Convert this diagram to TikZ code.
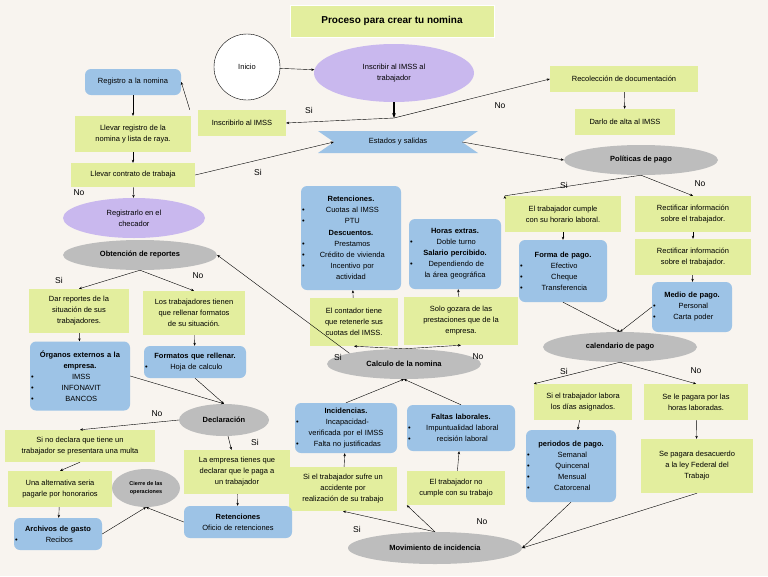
\documentclass[tikz,border=0pt]{standalone}
\usepackage{fontspec}
\setmainfont{Liberation Sans}
\usetikzlibrary{arrows.meta,shapes.geometric}
\definecolor{bg}{HTML}{F8F4EF}
\definecolor{gr}{HTML}{E3EE9E}
\definecolor{bl}{HTML}{9DC3E6}
\definecolor{pu}{HTML}{C9B8EE}
\definecolor{gy}{HTML}{BDBDBD}
\newcommand{\bli}[1]{\textbullet\hfill #1\hfill\mbox{}}
\tikzset{
 every node/.style={font=\fontsize{7.5}{11}\selectfont, align=center, inner sep=1pt},
 g/.style={fill=gr, minimum width=#1},
 b/.style={fill=bl, rounded corners=6pt, text width=#1},
 gel/.style={ellipse, fill=gy, font=\fontsize{7.5}{11}\selectfont\bfseries},
 pel/.style={ellipse, fill=pu},
 ar/.style={-{Stealth[length=3pt,width=2.5pt]}, thin},
 lab/.style={font=\fontsize{8.5}{10}\selectfont}
}
\begin{document}
\begin{tikzpicture}[x=1pt,y=-1pt]
\fill[bg] (0,0) rectangle (768,576);
\useasboundingbox (0,0) rectangle (768,576);
% title
\node[fill=gr, draw=white, minimum width=204, minimum height=32, font=\fontsize{10}{12}\selectfont\bfseries] (title) at (392,21) {Proceso para crear tu nomina};
\node[circle, draw, fill=white, minimum size=66] (ini) at (247,67) {Inicio};
\node[pel, minimum width=160, minimum height=58] (insc) at (394,73) {Inscribir al IMSS al\\trabajador};
\node[b=94, minimum height=26] (reg) at (133,82) {Registro a la nomina};
\node[g=148, minimum height=26] (rec) at (624,79) {Recolección de documentación};
\node[g=100, minimum height=26] (alta) at (625,122) {Darlo de alta al IMSS};
\node[g=88, minimum height=26] (inscr) at (242,123) {Inscribirlo al IMSS};
\coordinate (jn) at (394,118);
\fill[bl] (318,131) -- (478,131) -- (462,142) -- (478,153) -- (318,153) -- (334,142) -- cycle;
\node[minimum width=128, minimum height=22] (est) at (398,142) {Estados y salidas};
\node[g=116, minimum height=36] (llreg) at (133,134) {Llevar registro de la\\nomina y lista de raya.};
\node[g=124, minimum height=24] (llcon) at (133,175) {Llevar contrato de trabaja};
\node[gel, minimum width=154, minimum height=30] (pol) at (641,160) {Políticas de pago};
\node[pel, minimum width=142, minimum height=40] (chec) at (134,218) {Registrarlo en el\\checador};
\node[g=116, minimum height=36] (cumple) at (563,214) {El trabajador cumple\\con su horario laboral.};
\node[g=116, minimum height=36] (rect1) at (693,214) {Rectificar información\\sobre el trabajador.};
\node[g=116, minimum height=36] (rect2) at (693,257) {Rectificar información\\sobre el trabajador.};
\node[b=98, minimum height=104, font=\fontsize{7.5}{11.2}\selectfont] (ret) at (351,238) {\textbf{Retenciones.}\\\bli{Cuotas al IMSS}\\\bli{PTU}\\\textbf{Descuentos.}\\\bli{Prestamos}\\\bli{Crédito de vivienda}\\\bli{Incentivo por}\\actividad};
\node[b=90, minimum height=70] (horas) at (455,254) {\textbf{Horas extras.}\\\bli{Doble turno}\\\textbf{Salario percibido.}\\\bli{Dependiendo de}\\la área geográfica};
\node[b=86, minimum height=62] (forma) at (563,271) {\textbf{Forma de pago.}\\\bli{Efectivo}\\\bli{Cheque}\\\bli{Transferencia}};
\node[b=78, minimum height=50] (medio) at (692,307) {\textbf{Medio de pago.}\\\bli{Personal}\\\bli{Carta poder}};
\node[gel, minimum width=154, minimum height=30] (obt) at (140,255) {Obtención de reportes};
\node[g=100, minimum height=44] (dar) at (79,311) {Dar reportes de la\\situación de sus\\trabajadores.};
\node[g=102, minimum height=44] (llen) at (194,313) {Los trabajadores tienen\\que rellenar formatos\\de su situación.};
\node[g=88, minimum height=48] (cont) at (354,322) {El contador tiene\\que retenerle sus\\cuotas del IMSS.};
\node[g=114, minimum height=48] (solo) at (461,321) {Solo gozara de las\\prestaciones que de la\\empresa.};
\node[gel, minimum width=154, minimum height=30] (cal) at (620,347) {calendario de pago};
\node[b=98, minimum height=69] (org) at (80,376) {\textbf{Órganos externos a la}\\\textbf{empresa.}\\\bli{IMSS}\\\bli{INFONAVIT}\\\bli{BANCOS}};
\node[b=100, minimum height=32] (form) at (195,362) {\textbf{Formatos que rellenar.}\\\bli{Hoja de calculo}\hspace*{14pt}};
\node[gel, minimum width=154, minimum height=30] (calc) at (404,364) {Calculo de la nomina};
\node[g=98, minimum height=36] (labora) at (583,402) {Si el trabajador labora\\los días asignados.};
\node[g=104, minimum height=36] (pagh) at (696,402) {Se le pagara por las\\horas laboradas.};
\node[gel, minimum width=90, minimum height=32] (decl) at (224,420) {Declaración};
\node[b=100, minimum height=50] (inc) at (346,428) {\textbf{Incidencias.}\\\bli{Incapacidad-}\\verificada por el IMSS\\\bli{Falta no justificadas}};
\node[b=106, minimum height=46] (faltas) at (461,428) {\textbf{Faltas laborales.}\\\bli{Impuntualidad laboral}\\\bli{recisión laboral}};
\node[b=88, minimum height=72] (per) at (571,466) {\textbf{periodos de pago.}\\\bli{Semanal}\\\bli{Quincenal}\\\bli{Mensual}\\\bli{Catorcenal}};
\node[g=150, minimum height=32] (multa) at (80,446) {Si no declara que tiene un\\trabajador se presentara una multa};
\node[g=106, minimum height=44] (emp) at (237,472) {La empresa tienes que\\declarar que le paga a\\un trabajador};
\node[g=112, minimum height=54] (ley) at (697,466) {Se pagara desacuerdo\\a la ley Federal del\\Trabajo};
\node[g=104, minimum height=36] (alt) at (60,489) {Una alternativa seria\\pagarle por honorarios};
\node[ellipse, fill=gy, minimum width=68, minimum height=38, font=\fontsize{5.5}{8}\selectfont\bfseries] (cierre) at (146,488) {Cierre de las\\operaciones};
\node[g=108, minimum height=44] (sufre) at (343,489) {Si el trabajador sufre un\\accidente por\\realización de su trabajo};
\node[g=98, minimum height=34] (nocum) at (456,488) {El trabajador no\\cumple con su trabajo};
\node[b=86, minimum height=32] (arch) at (58,534) {\textbf{Archivos de gasto}\\\bli{Recibos}\hspace*{14pt}};
\node[b=106, minimum height=32] (retof) at (238,522) {\textbf{Retenciones}\\Oficio de retenciones};
\node[gel, minimum width=174, minimum height=32] (mov) at (435,548) {Movimiento de incidencia};
% connectors
\draw[ar] (ini) -- (insc);
\draw[-{Stealth[length=5pt]}, line width=1.5pt] (insc.south) -- (jn);
\draw[ar] (jn) -- (inscr.east);
\draw[ar] (jn) -- (rec.west);
\draw[ar] (inscr.north west) ++(-8,0) -- (reg.east);
\draw[ar] (reg) -- (llreg);
\draw[ar] (llreg) -- (llcon);
\draw[ar] (llcon.east) -- (est.west);
\draw[ar] (llcon) -- (chec);
\draw[ar] (rec) -- (alta);
\draw[ar] (est.east) -- (pol.west);
\draw[ar] (pol.south) -- (cumple.north west) ++(0,0);
\draw[ar] (pol.south) -- (rect1.north);
\draw[ar] (rect1) -- (rect2);
\draw[ar] (rect2) -- (medio);
\draw[ar] (cumple) -- (forma);
\draw[ar] (forma.south) -- (cal.north);
\draw[ar] (medio.west) -- (cal.north);
\draw[ar] (cal.south) -- (labora.north west);
\draw[ar] (cal.south) -- (pagh.north);
\draw[ar] (labora) -- (per);
\draw[ar] (pagh) -- (ley);
\draw[ar] (per.south) -- (mov.east);
\draw[ar] (ley.south) -- (mov.east);
\draw[ar] (mov.north) -- (sufre.south);
\draw[ar] (mov.north) -- (nocum.south west);
\draw[ar] (sufre) -- (inc);
\draw[ar] (nocum) -- (faltas);
\draw[ar] (inc.north) -- (calc.south);
\draw[ar] (faltas.north) -- (calc.south);
\draw[ar] (calc.north) -- (cont.south);
\draw[ar] (calc.north) -- (solo.south);
\draw[ar] (cont) -- (ret);
\draw[ar] (solo) -- (horas);
\draw[ar] (calc.north west) -- (obt.east);
\draw[ar] (obt.south) -- (dar.north);
\draw[ar] (obt.south) -- (llen.north);
\draw[ar] (dar) -- (org);
\draw[ar] (llen) -- (form);
\draw[ar] (org.east) -- (decl.north);
\draw[ar] (form.south) -- (decl.north);
\draw[ar] (decl.west) -- (multa.north);
\draw[ar] (decl) -- (emp);
\draw[ar] (multa.south) -- (alt.north);
\draw[ar] (emp) -- (retof);
\draw[ar] (alt) -- (arch);
\draw[ar] (arch.east) -- (cierre.south);
\draw[ar] (retof.west) -- (cierre.south);
% labels
\node[lab] (l1) at (309,110) {Si};
\node[lab] (l2) at (500,106) {No};
\node[lab] (l3) at (258,172) {Si};
\node[lab] (l4) at (79,193) {No};
\node[lab] (l5) at (564,185) {Si};
\node[lab] (l6) at (700,184) {No};
\node[lab] (l7) at (59,280) {Si};
\node[lab] (l8) at (198,276) {No};
\node[lab] (l9) at (338,357) {Si};
\node[lab] (l10) at (478,357) {No};
\node[lab] (l11) at (564,371) {Si};
\node[lab] (l12) at (696,371) {No};
\node[lab] (l13) at (157,414) {No};
\node[lab] (l14) at (255,442) {Si};
\node[lab] (l15) at (357,529) {Si};
\node[lab] (l16) at (482,522) {No};
\end{tikzpicture}
\end{document}
